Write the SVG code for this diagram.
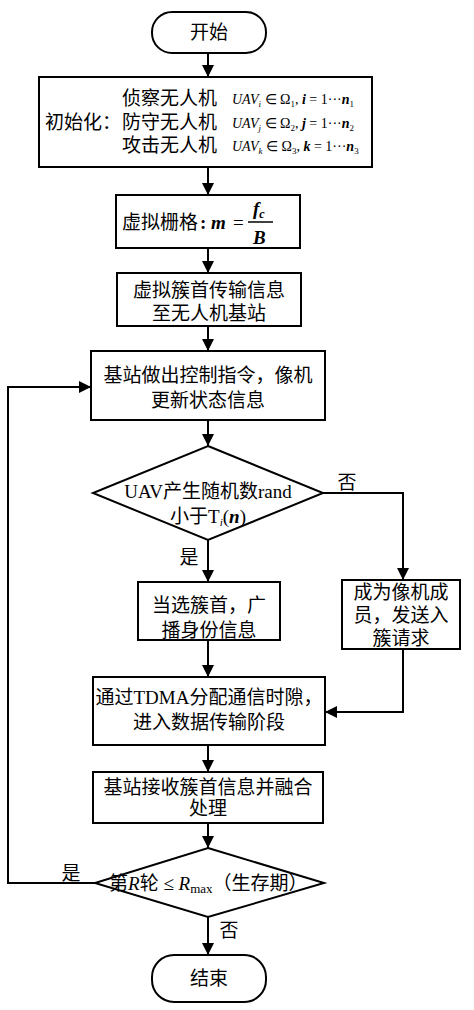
<svg xmlns="http://www.w3.org/2000/svg" width="474" height="1010" viewBox="0 0 474 1010">
<defs>
<marker id="ah" markerUnits="userSpaceOnUse" markerWidth="12" markerHeight="12" refX="12" refY="6" orient="auto">
<path d="M0,0 L12,6 L0,12 z" fill="#000"/>
</marker>
<style>
.b{fill:#fff;stroke:#000;stroke-width:2}
.t{font-family:"Liberation Serif","Noto Sans CJK SC",serif;font-size:19px;fill:#000}
.m{font-family:"Liberation Serif",serif;font-size:14px;font-style:italic;fill:#000}
.c{fill:none;stroke:#000;stroke-width:2;marker-end:url(#ah)}
.l{fill:none;stroke:#000;stroke-width:2}
</style>
</defs>
<rect width="474" height="1010" fill="#fff"/>
<g id="start">
<rect class="b" x="152" y="12" width="114" height="41" rx="20"/>
<text class="t" x="209" y="39" text-anchor="middle">开始</text>
</g>
<g id="init">
<rect class="b" x="39" y="77" width="333" height="90"/>
<text class="t" x="45" y="129" font-size="20">初始化：</text>
<text class="t" x="122" y="105" font-size="20">侦察无人机</text>
<text class="t" x="122" y="129" font-size="20">防守无人机</text>
<text class="t" x="122" y="152" font-size="20">攻击无人机</text>
<text class="m" x="232" y="104">UAV<tspan font-size="9" dy="3">i</tspan><tspan font-style="normal" dy="-3"> ∈ Ω</tspan><tspan font-style="normal" font-size="9" dy="3">1</tspan><tspan font-style="normal" dy="-3">, </tspan><tspan font-weight="bold">i</tspan><tspan font-style="normal"> = 1···</tspan><tspan font-weight="bold">n</tspan><tspan font-style="normal" font-size="9" dy="3">1</tspan></text>
<text class="m" x="232" y="128">UAV<tspan font-size="9" dy="3">j</tspan><tspan font-style="normal" dy="-3"> ∈ Ω</tspan><tspan font-style="normal" font-size="9" dy="3">2</tspan><tspan font-style="normal" dy="-3">, </tspan><tspan font-weight="bold">j</tspan><tspan font-style="normal"> = 1···</tspan><tspan font-weight="bold">n</tspan><tspan font-style="normal" font-size="9" dy="3">2</tspan></text>
<text class="m" x="232" y="151">UAV<tspan font-size="9" dy="3">k</tspan><tspan font-style="normal" dy="-3"> ∈ Ω</tspan><tspan font-style="normal" font-size="9" dy="3">3</tspan><tspan font-style="normal" dy="-3">, </tspan><tspan font-weight="bold">k</tspan><tspan font-style="normal"> = 1···</tspan><tspan font-weight="bold">n</tspan><tspan font-style="normal" font-size="9" dy="3">3</tspan></text>
</g>
<g id="grid">
<rect class="b" x="116" y="195" width="184" height="53"/>
<text class="t" x="122" y="229">虚拟栅格</text>
<text class="t" x="200" y="229" font-size="20" font-weight="bold">:</text>
<text class="t" x="211" y="229" font-size="21" font-style="italic" font-weight="bold">m</text>
<text class="t" x="233" y="229" font-size="20">=</text>
<line x1="248" y1="222" x2="273" y2="222" stroke="#000" stroke-width="1.5"/>
<text class="t" x="253" y="215" font-size="20" font-style="italic" font-weight="bold">f<tspan font-size="12" dy="3">c</tspan></text>
<text class="t" x="253" y="244" font-size="20" font-style="italic" font-weight="bold">B</text>
</g>
<g id="box3">
<rect class="b" x="117" y="273" width="184" height="53"/>
<text class="t" x="209" y="297" text-anchor="middle">虚拟簇首传输信息</text>
<text class="t" x="209" y="320" text-anchor="middle">至无人机基站</text>
</g>
<g id="box4">
<rect class="b" x="91" y="351" width="234" height="69"/>
<text class="t" x="208" y="382" text-anchor="middle" font-size="20">基站做出控制指令，像机</text>
<text class="t" x="208" y="407" text-anchor="middle" font-size="20">更新状态信息</text>
</g>
<g id="dec1">
<polygon class="b" points="208,446 323,493 208,540 93,493"/>
<text class="t" x="208" y="498" text-anchor="middle" font-size="17">UAV产生随机数rand</text>
<text class="t" x="208" y="523" text-anchor="middle" font-size="17">小于T<tspan font-size="11" dy="3" font-style="italic">i</tspan><tspan dy="-3">(</tspan><tspan font-style="italic" font-weight="bold">n</tspan>)</text>
</g>
<g id="head">
<rect class="b" x="138" y="582" width="142" height="58"/>
<text class="t" x="209" y="612" text-anchor="middle">当选簇首，广</text>
<text class="t" x="209" y="637" text-anchor="middle">播身份信息</text>
</g>
<g id="member">
<rect class="b" x="342" y="580" width="118" height="69"/>
<text class="t" x="401" y="599" text-anchor="middle">成为像机成</text>
<text class="t" x="401" y="622" text-anchor="middle">员，发送入</text>
<text class="t" x="401" y="645" text-anchor="middle">簇请求</text>
</g>
<g id="tdma">
<rect class="b" x="93" y="677" width="232" height="68"/>
<text class="t" x="209" y="704" text-anchor="middle">通过TDMA分配通信时隙，</text>
<text class="t" x="209" y="729" text-anchor="middle">进入数据传输阶段</text>
</g>
<g id="fuse">
<rect class="b" x="93" y="772" width="230" height="51"/>
<text class="t" x="208" y="794" text-anchor="middle">基站接收簇首信息并融合</text>
<text class="t" x="208" y="815" text-anchor="middle">处理</text>
</g>
<g id="dec2">
<polygon class="b" points="208,848 324,883 208,917 95,883"/>
<text class="t" x="109" y="890" font-size="21">第<tspan font-style="italic">R</tspan>轮 ≤ <tspan font-style="italic">R</tspan><tspan font-size="13" dy="3">max</tspan><tspan dy="-3">（生存期）</tspan></text>
</g>
<g id="end">
<rect class="b" x="152" y="955" width="114" height="47" rx="22"/>
<text class="t" x="209" y="985" text-anchor="middle">结束</text>
</g>
<g id="connectors">
<path class="c" d="M208,53 L208,77"/>
<path class="c" d="M208,167 L208,195"/>
<path class="c" d="M208,248 L208,273"/>
<path class="c" d="M208,326 L208,351"/>
<path class="c" d="M208,420 L208,446"/>
<path class="c" d="M208,540 L208,582"/>
<path class="c" d="M323,493 L403,493 L403,580"/>
<path class="c" d="M208,640 L208,677"/>
<path class="c" d="M403,649 L403,712 L325,712"/>
<path class="c" d="M208,745 L208,772"/>
<path class="c" d="M208,823 L208,848"/>
<path class="c" d="M208,917 L208,955"/>
<path class="c" d="M95,883 L8,883 L8,387 L91,387"/>
<text class="t" x="347" y="489" text-anchor="middle" font-size="17">否</text>
<text class="t" x="189" y="564" text-anchor="middle" font-size="17">是</text>
<text class="t" x="229" y="937" text-anchor="middle" font-size="17">否</text>
<text class="t" x="71" y="880" text-anchor="middle" font-size="17">是</text>
</g>
</svg>
